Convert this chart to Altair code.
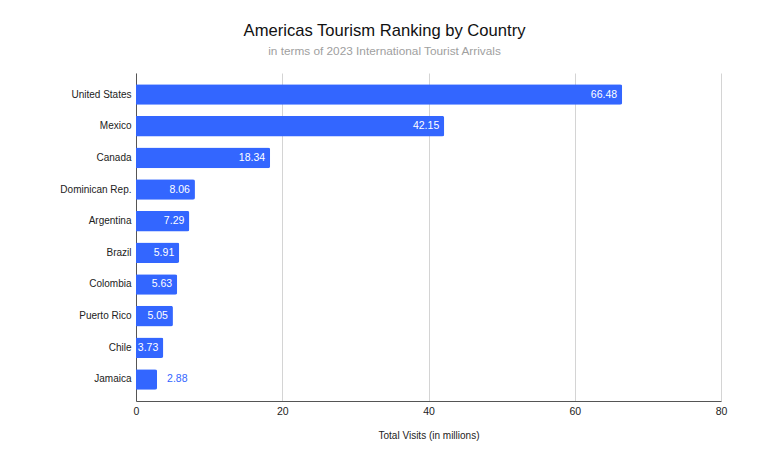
import altair as alt
import pandas as pd

countries = ["United States", "Mexico", "Canada", "Dominican Rep.", "Argentina",
             "Brazil", "Colombia", "Puerto Rico", "Chile", "Jamaica"]
visits = [66.48, 42.15, 18.34, 8.06, 7.29, 5.91, 5.63, 5.05, 3.73, 2.88]
x_ticks = [0, 20, 40, 60, 80]

BLUE = "#3366ff"
FONT = "Liberation Sans"

df = pd.DataFrame({"country": countries, "visits": visits})
df["label"] = df["visits"].map(lambda v: f"{v:.2f}")

x_scale = alt.Scale(domain=[0, 80], nice=False)
y_axis = alt.Y("country:N", sort=countries, title=None,
               scale=alt.Scale(paddingInner=0.35, paddingOuter=0.355),
               axis=alt.Axis(ticks=False, domain=True, domainColor="#555555",
                             labelFontSize=10, labelFont=FONT, labelColor="#222222",
                             labelPadding=5))

bars = (
    alt.Chart(df)
    .mark_bar(color=BLUE, cornerRadiusTopRight=2, cornerRadiusBottomRight=2)
    .encode(
        x=alt.X("visits:Q", scale=x_scale, title="Total Visits (in millions)",
                axis=alt.Axis(values=x_ticks, grid=True, gridColor="#d4d4d4", ticks=False,
                              domain=True, domainColor="#555555", labelFontSize=10.5,
                              labelFont=FONT, labelColor="#222222", labelPadding=5,
                              labelFlush=False, titleFont=FONT, titleFontSize=10,
                              titleFontWeight="normal", titleColor="#222222", titlePadding=14)),
        y=y_axis,
    )
)

inside = (
    alt.Chart(df[df["visits"] > 3])
    .mark_text(align="right", dx=-5, color="white", fontSize=10.5, font=FONT)
    .encode(x="visits:Q", y=alt.Y("country:N", sort=countries), text="label:N")
)

outside = (
    alt.Chart(df[df["visits"] <= 3])
    .mark_text(align="left", dx=10, color=BLUE, fontSize=10.5, font=FONT)
    .encode(x="visits:Q", y=alt.Y("country:N", sort=countries), text="label:N")
)

chart = (
    alt.layer(bars, inside, outside)
    .properties(
        width=585,
        height=328,
        padding={"left": 51, "top": 14, "right": 30, "bottom": 10},
        title=alt.TitleParams(
            "Americas Tourism Ranking by Country",
            subtitle="in terms of 2023 International Tourist Arrivals",
            anchor="middle",
            dx=-44,
            font=FONT,
            subtitleFont=FONT,
            fontSize=16.6,
            fontWeight="normal",
            color="#111111",
            subtitleFontSize=11.8,
            subtitleColor="#a0a0a0",
            subtitlePadding=7,
            offset=15,
        ),
    )
    .configure_view(stroke="transparent")
)

chart.save("out.html", embed_options={"renderer": "svg", "actions": False})
